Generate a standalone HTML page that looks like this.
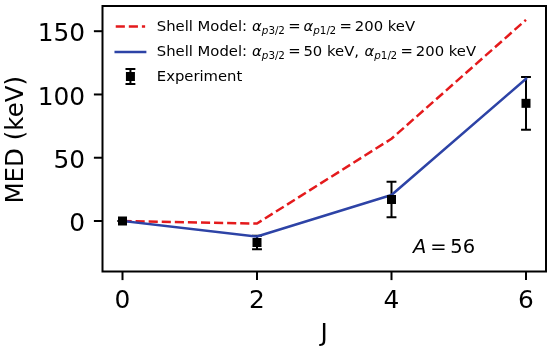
<!DOCTYPE html><html><head><meta charset="utf-8"><style>html,body{margin:0;padding:0;background:#fff;width:550px;height:350px;overflow:hidden}svg{display:block}text{font-family:'DejaVu Sans', 'Liberation Sans', sans-serif;fill:#000}</style></head><body>
<svg width="550" height="350" viewBox="0 0 550 350">
<rect x="0" y="0" width="550" height="350" fill="#fff"/>
<line x1="122.50" y1="271.5" x2="122.50" y2="280.1" stroke="#000" stroke-width="2"/>
<text x="122.50" y="307.60" font-size="24.85" text-anchor="middle">0</text>
<line x1="257.00" y1="271.5" x2="257.00" y2="280.1" stroke="#000" stroke-width="2"/>
<text x="257.00" y="307.60" font-size="24.85" text-anchor="middle">2</text>
<line x1="391.50" y1="271.5" x2="391.50" y2="280.1" stroke="#000" stroke-width="2"/>
<text x="391.50" y="307.60" font-size="24.85" text-anchor="middle">4</text>
<line x1="526.00" y1="271.5" x2="526.00" y2="280.1" stroke="#000" stroke-width="2"/>
<text x="526.00" y="307.60" font-size="24.85" text-anchor="middle">6</text>
<line x1="93.9" y1="221.00" x2="102.5" y2="221.00" stroke="#000" stroke-width="2"/>
<text x="85.10" y="231.20" font-size="24.85" text-anchor="end">0</text>
<line x1="93.9" y1="157.73" x2="102.5" y2="157.73" stroke="#000" stroke-width="2"/>
<text x="85.10" y="167.93" font-size="24.85" text-anchor="end">50</text>
<line x1="93.9" y1="94.47" x2="102.5" y2="94.47" stroke="#000" stroke-width="2"/>
<text x="85.10" y="104.67" font-size="24.85" text-anchor="end">100</text>
<line x1="93.9" y1="31.20" x2="102.5" y2="31.20" stroke="#000" stroke-width="2"/>
<text x="85.10" y="41.40" font-size="24.85" text-anchor="end">150</text>
<text x="324.25" y="340.5" font-size="24.8" text-anchor="middle">J</text>
<text transform="translate(22.5 139.75) rotate(-90)" x="0" y="0" font-size="24.5" text-anchor="middle">MED (keV)</text>
<defs><clipPath id="c"><rect x="102.5" y="6" width="443.5" height="265.5"/></clipPath></defs>
<g clip-path="url(#c)">
<line x1="122.50" y1="221.00" x2="122.50" y2="221.00" stroke="#000" stroke-width="2"/>
<line x1="117.56" y1="221.00" x2="127.44" y2="221.00" stroke="#000" stroke-width="2"/>
<line x1="117.56" y1="221.00" x2="127.44" y2="221.00" stroke="#000" stroke-width="2"/>
<line x1="257.00" y1="235.80" x2="257.00" y2="249.22" stroke="#000" stroke-width="2"/>
<line x1="252.06" y1="235.80" x2="261.94" y2="235.80" stroke="#000" stroke-width="2"/>
<line x1="252.06" y1="249.22" x2="261.94" y2="249.22" stroke="#000" stroke-width="2"/>
<line x1="391.50" y1="181.78" x2="391.50" y2="217.20" stroke="#000" stroke-width="2"/>
<line x1="386.56" y1="181.78" x2="396.44" y2="181.78" stroke="#000" stroke-width="2"/>
<line x1="386.56" y1="217.20" x2="396.44" y2="217.20" stroke="#000" stroke-width="2"/>
<line x1="526.00" y1="77.01" x2="526.00" y2="129.65" stroke="#000" stroke-width="2"/>
<line x1="521.06" y1="77.01" x2="530.94" y2="77.01" stroke="#000" stroke-width="2"/>
<line x1="521.06" y1="129.65" x2="530.94" y2="129.65" stroke="#000" stroke-width="2"/>
<polyline points="122.50,221.00 257.00,223.53 391.50,138.76 526.00,19.82" fill="none" stroke="#e41a1c" stroke-width="2.5" stroke-dasharray="9.14 3.94" stroke-linejoin="round"/>
<polyline points="122.50,221.00 257.00,236.56 391.50,195.06 526.00,78.78" fill="none" stroke="#2d43a6" stroke-width="2.5" stroke-linejoin="round" stroke-linecap="square"/>
<rect x="118.00" y="216.50" width="9" height="9" fill="#000"/>
<rect x="252.50" y="238.01" width="9" height="9" fill="#000"/>
<rect x="387.00" y="194.99" width="9" height="9" fill="#000"/>
<rect x="521.50" y="98.83" width="9" height="9" fill="#000"/>
</g>
<rect x="102.5" y="6" width="443.5" height="265.5" fill="none" stroke="#000" stroke-width="2"/>
<text transform="translate(413.0 253.2)" font-size="19.5"><tspan x="0" y="0" font-style="oblique">A</tspan><tspan x="17.14" y="0">=</tspan><tspan x="37.28" y="0">56</tspan></text>
<line x1="115.73" y1="26.45" x2="145.13" y2="26.45" stroke="#e41a1c" stroke-width="2.5" stroke-dasharray="9.14 3.94"/>
<line x1="115.73" y1="51.9" x2="145.13" y2="51.9" stroke="#2d43a6" stroke-width="2.5" stroke-linecap="square"/>
<line x1="130.43" y1="69.00" x2="130.43" y2="84.00" stroke="#000" stroke-width="2"/>
<line x1="125.49" y1="69.00" x2="135.37" y2="69.00" stroke="#000" stroke-width="2"/>
<line x1="125.49" y1="84.00" x2="135.37" y2="84.00" stroke="#000" stroke-width="2"/>
<rect x="125.93" y="72.00" width="9" height="9" fill="#000"/>
<text transform="translate(156.8 31.1)" font-size="14.8" xml:space="preserve"><tspan x="0.000" y="0">Shell Model:</tspan><tspan x="95.258" y="0" font-style="oblique">α</tspan><tspan x="105.047" y="2.477" font-size="10.36" font-style="oblique">p</tspan><tspan x="111.646" y="2.477" font-size="10.36">3</tspan><tspan x="118.260" y="2.477" font-size="10.36">/</tspan><tspan x="121.410" y="2.477" font-size="10.36">2</tspan><tspan x="131.329" y="0">=</tspan><tspan x="146.666" y="0" font-style="oblique">α</tspan><tspan x="156.455" y="2.477" font-size="10.36" font-style="oblique">p</tspan><tspan x="163.053" y="2.477" font-size="10.36">1</tspan><tspan x="169.667" y="2.477" font-size="10.36">/</tspan><tspan x="172.817" y="2.477" font-size="10.36">2</tspan><tspan x="182.737" y="0">=</tspan><tspan x="198.073" y="0">200 keV</tspan></text>
<text transform="translate(156.8 56.3)" font-size="14.8" xml:space="preserve"><tspan x="0.000" y="0">Shell Model:</tspan><tspan x="95.258" y="0" font-style="oblique">α</tspan><tspan x="105.047" y="2.477" font-size="10.36" font-style="oblique">p</tspan><tspan x="111.646" y="2.477" font-size="10.36">3</tspan><tspan x="118.260" y="2.477" font-size="10.36">/</tspan><tspan x="121.410" y="2.477" font-size="10.36">2</tspan><tspan x="131.329" y="0">=</tspan><tspan x="146.666" y="0">50 keV,</tspan><tspan x="207.619" y="0" font-style="oblique">α</tspan><tspan x="217.408" y="2.477" font-size="10.36" font-style="oblique">p</tspan><tspan x="224.006" y="2.477" font-size="10.36">1</tspan><tspan x="230.620" y="2.477" font-size="10.36">/</tspan><tspan x="233.770" y="2.477" font-size="10.36">2</tspan><tspan x="243.690" y="0">=</tspan><tspan x="259.026" y="0">200 keV</tspan></text>
<text transform="translate(156.8 81.1)" font-size="14.8">Experiment</text>
</svg></body></html>
